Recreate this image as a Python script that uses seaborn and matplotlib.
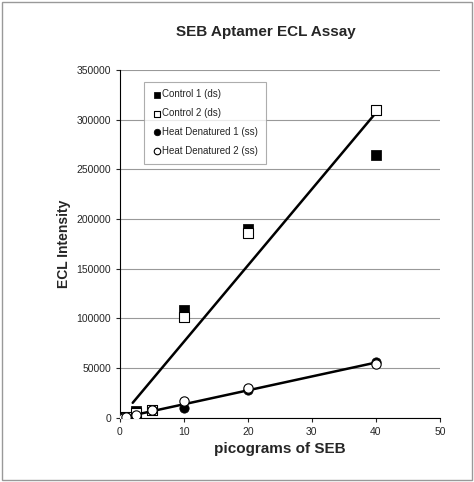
import numpy as np
import matplotlib
matplotlib.use("Agg")
import matplotlib.pyplot as plt
import seaborn as sns

sns.set_style("white")
plt.rcParams['font.family'] = ['Liberation Sans', 'DejaVu Sans']

x_c1 = [0, 0.5, 1, 2.5, 5, 10, 20, 40]
y_c1 = [0, 500, 1000, 7000, 8000, 109000, 190000, 264000]
x_c2 = [0, 0.5, 1, 2.5, 5, 10, 20, 40]
y_c2 = [0, 300, 800, 5000, 8000, 101000, 186000, 310000]
x_h1 = [0, 0.5, 1, 2.5, 5, 10, 20, 40]
y_h1 = [0, 200, 500, 2000, 8000, 10000, 28000, 56000]
x_h2 = [0, 0.5, 1, 2.5, 5, 10, 20, 40]
y_h2 = [0, 200, 500, 2500, 8000, 17000, 30000, 54000]

fig = plt.figure(figsize=(4.74, 4.82), dpi=100)
ax = fig.add_axes([0.253, 0.133, 0.675, 0.722])
fig.patches.append(plt.Rectangle((0.004, 0.004), 0.992, 0.992, transform=fig.transFigure,
                                 fill=False, edgecolor='#999999', lw=1))

ax.yaxis.grid(True, color='#999999', lw=0.8)
ax.set_axisbelow(True)

# regression lines (fit on points above the blank level)
xc = np.array(x_c1[3:] + x_c2[3:], float); yc = np.array(y_c1[3:] + y_c2[3:], float)
pc = np.polyfit(xc, yc, 1)
xl = np.array([2, 40])
ax.plot(xl, np.polyval(pc, xl), color='black', lw=1.8)
xh = np.array(x_h1 + x_h2, float); yh = np.array(y_h1 + y_h2, float)
ph = np.polyfit(xh, yh, 1)
xl2 = np.array([2.5, 40])
ax.plot(xl2, np.polyval(ph, xl2), color='black', lw=1.8)

ms = 45
sns.scatterplot(x=x_c1, y=y_c1, marker='s', s=ms, color='black', edgecolor='black', label='Control 1 (ds)', ax=ax, zorder=3)
sns.scatterplot(x=x_c2, y=y_c2, marker='s', s=ms, facecolor='white', edgecolor='black', linewidth=0.8, label='Control 2 (ds)', ax=ax, zorder=3)
sns.scatterplot(x=x_h1, y=y_h1, marker='o', s=ms, color='black', edgecolor='black', label='Heat Denatured 1 (ss)', ax=ax, zorder=3)
sns.scatterplot(x=x_h2, y=y_h2, marker='o', s=ms, facecolor='white', edgecolor='black', linewidth=0.8, label='Heat Denatured 2 (ss)', ax=ax, zorder=3)

ax.set_xlim(0, 50)
ax.set_ylim(0, 350000)
ax.set_xticks(range(0, 51, 10))
ax.set_yticks(range(0, 350001, 50000))
ax.tick_params(labelsize=7.5, length=3, direction='out', left=True, bottom=True)
for s in ['top', 'right']:
    ax.spines[s].set_visible(False)
for s in ['left', 'bottom']:
    ax.spines[s].set_color('black'); ax.spines[s].set_linewidth(0.8)

ax.set_xlabel('picograms of SEB', fontsize=11, fontweight='bold')
ax.set_ylabel('ECL Intensity', fontsize=10, fontweight='bold')
fig.text(0.56, 0.925, 'SEB Aptamer ECL Assay', fontsize=11, fontweight='bold', ha='center')

leg = ax.legend(loc='upper left', bbox_to_anchor=(0.06, 0.98), fontsize=7, frameon=True,
                fancybox=False, edgecolor='#999999', handletextpad=0.1, borderpad=0.8,
                labelspacing=0.9, handlelength=1, markerscale=0.7)
leg.get_frame().set_linewidth(0.8)

fig.savefig('out.png', dpi=100)
